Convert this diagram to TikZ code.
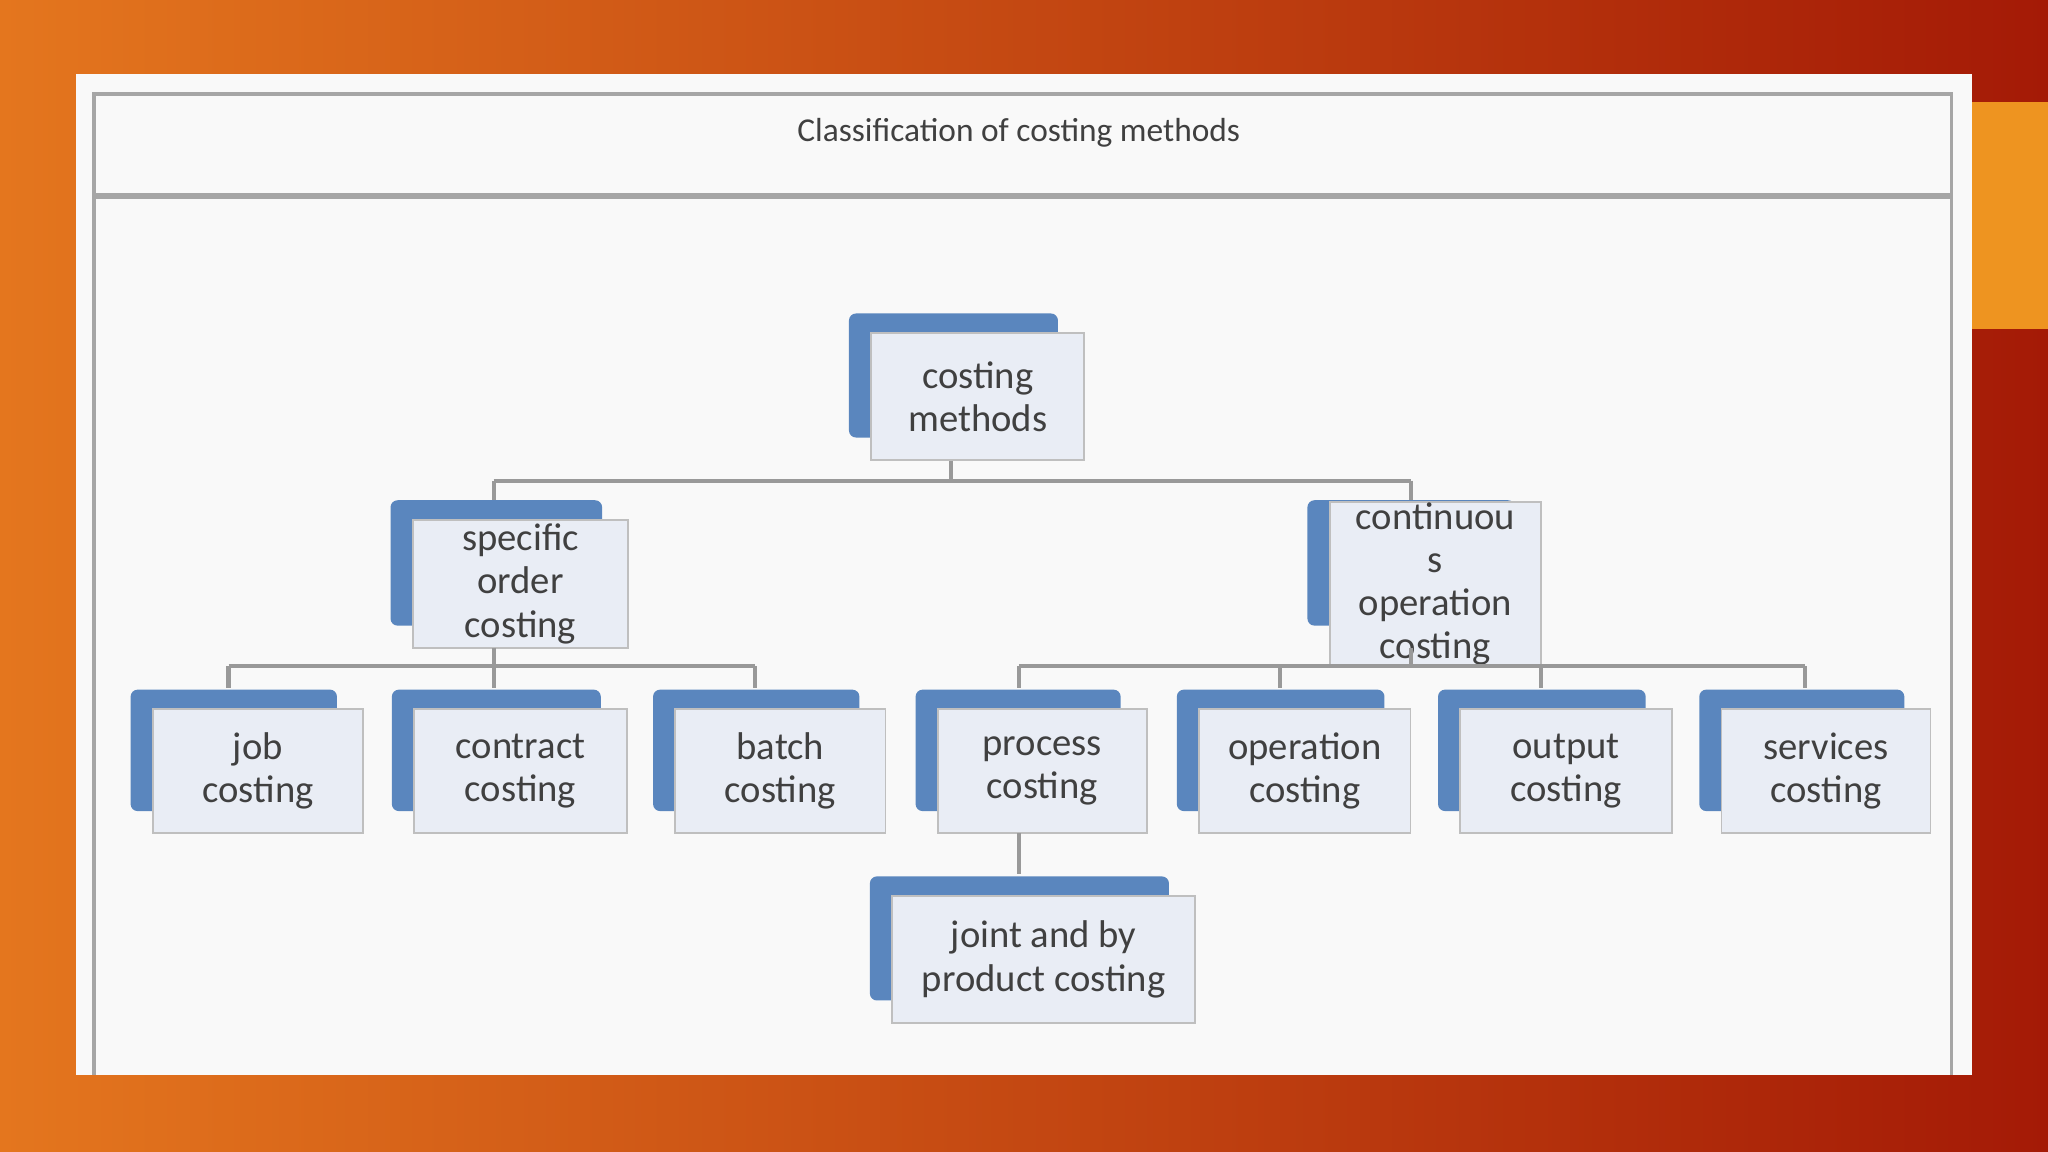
\documentclass[tikz,border=0pt]{standalone}
\usepackage{fontspec}
\setmainfont{Carlito}
\definecolor{bgl}{HTML}{E4761E}
\definecolor{bgr}{HTML}{A41A06}
\definecolor{tab}{HTML}{EE9420}
\definecolor{bl}{HTML}{5A86BE}
\definecolor{fr}{HTML}{E9EDF5}
\begin{document}
\begin{tikzpicture}[x=0.013061cm,y=-0.013061cm,
  front/.style={draw=black!25,fill=fr,line width=0.5pt,inner sep=0pt,align=center,text=black!75,font=\fontsize{11}{12.3}\selectfont},
  back/.style={fill=bl,draw=none,rounded corners=2pt},
  conn/.style={draw=gray!80,line width=1.2pt}]
\useasboundingbox (0,0) rectangle (1568,882);
\shade[left color=bgl,right color=bgr] (0,0) rectangle (1568,882);
\fill[tab] (1510,78) rectangle (1568,252);
\fill[white!95!gray] (58,57) rectangle (1510,823);
\draw[gray!70,line width=1pt] (72,823) -- (72,72) -- (1494,72) -- (1494,823);
\draw[gray!70,line width=1.5pt] (72,150) -- (1494,150);
\node[text=black!75,font=\fontsize{9.5}{11}\selectfont] (title) at (780,102) {Classification of costing methods};
\newcommand{\cbox}[6]{%
  \fill[back] (#2-17,#3-15) rectangle (#4-20,#5-17);
  \node[front,minimum width={(#4-#2)*0.013061cm},minimum height={(#5-#3)*0.013061cm}] (#1) at ({(#2+#4)/2},{(#3+#5)/2}) {#6};}
\cbox{root}{667}{255}{830}{352}{costing\\methods}
\cbox{spec}{316}{398}{481}{496}{specific\\order\\costing}
\cbox{cont}{1018}{398}{1180}{496}{continuou\\s\\operation\\costing}
\cbox{job}{117}{543}{278}{638}{job\\costing}
\cbox{contr}{317}{543}{480}{638}{contract\\costing}
\cbox{batch}{517}{543}{678}{638}{batch\\costing}
\cbox{proc}{718}{543}{878}{638}{process\\costing}
\cbox{oper}{918}{543}{1080}{638}{operation\\costing}
\cbox{outp}{1118}{543}{1280}{638}{output\\costing}
\cbox{serv}{1318}{543}{1478}{638}{services\\costing}
\cbox{joint}{683}{686}{915}{783}{joint and by\\product costing}
\coordinate (h1) at (728,368);
\coordinate (h2) at (378,510);
\coordinate (h3) at (1080,510);
\draw[conn] (root.south-|h1) -- (h1);
\draw[conn] (378,368) -- (1080,368);
\draw[conn] (378,368) -- (378,383);
\draw[conn] (1080,368) -- (1080,383);
\draw[conn] (378,496) -- (h2);
\draw[conn] (175,510) -- (578,510);
\foreach \x in {175,378,578} \draw[conn] (\x,510) -- (\x,527);
\draw[conn] (1080,496) -- (h3);
\draw[conn] (780,510) -- (1382,510);
\foreach \x in {780,980,1180,1382} \draw[conn] (\x,510) -- (\x,527);
\draw[conn] (780,638) -- (780,669);
\end{tikzpicture}
\end{document}
